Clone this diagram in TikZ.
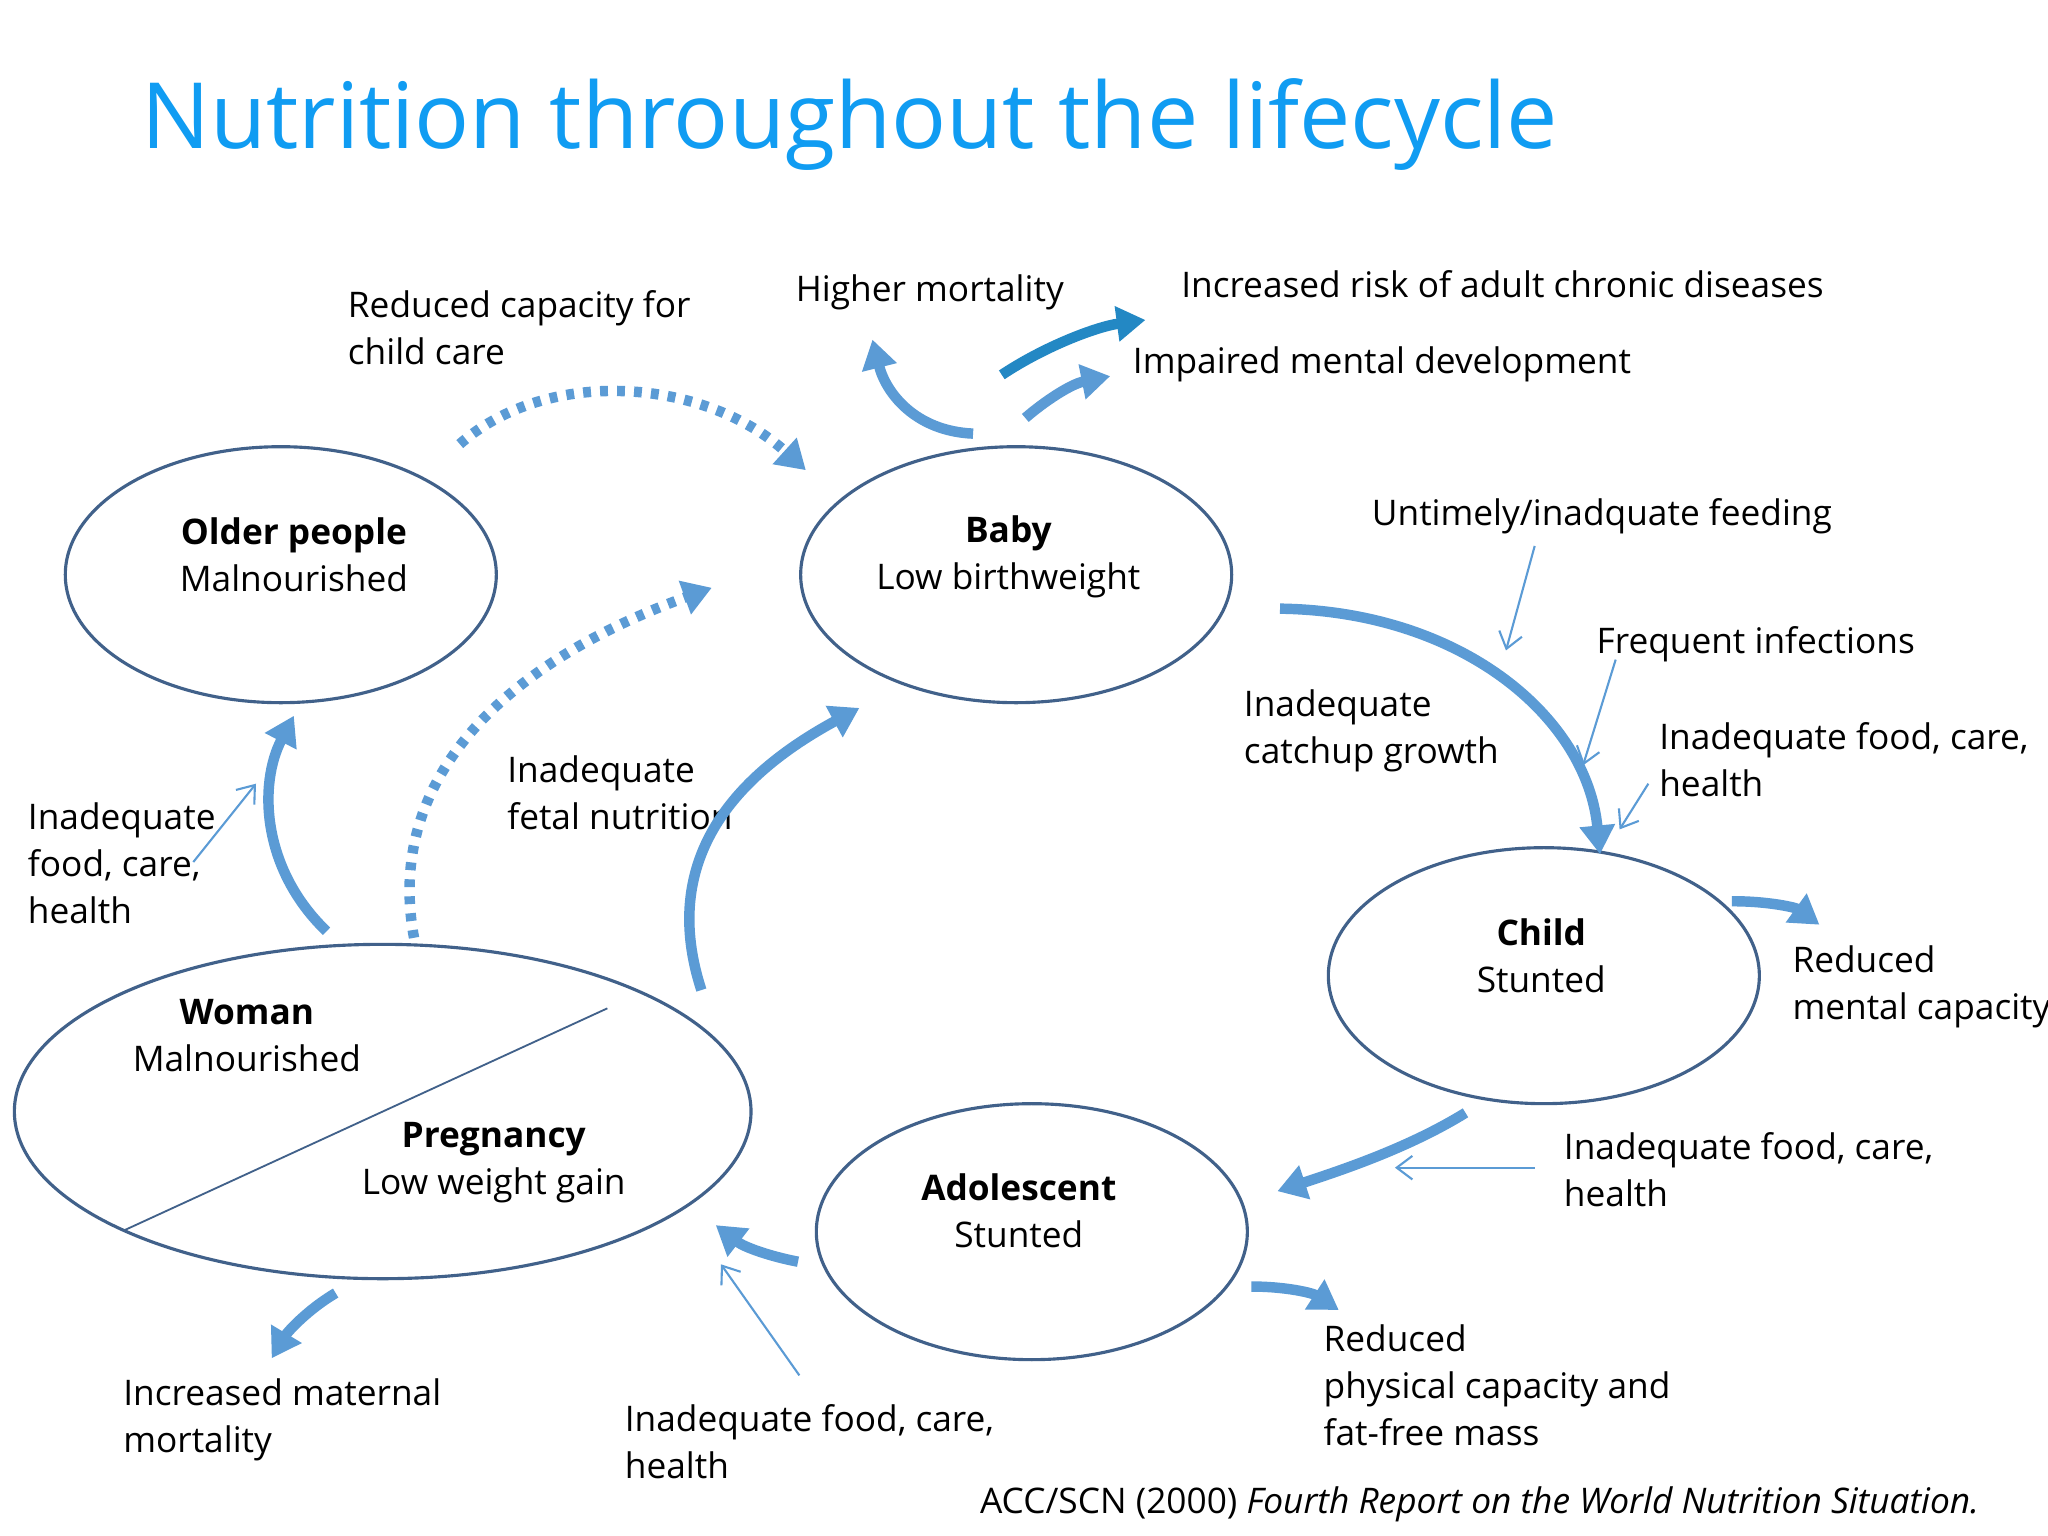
\documentclass[tikz,border=0pt]{standalone}
\usepackage{fontspec}
\setmainfont{Open Sans}
\usetikzlibrary{arrows.meta}
\definecolor{ar}{HTML}{5B9BD5}
\definecolor{el}{HTML}{41618A}
\definecolor{tt}{HTML}{109CF2}
\definecolor{teal}{HTML}{2388C4}
\tikzset{
 x=0.5pt,y=-0.5pt,
 lbl/.style={anchor=north west,align=left,inner sep=0pt,font=\fontsize{13.5}{18}\selectfont},
 ell/.style={draw=el,line width=1.2pt,ellipse,align=center,font=\fontsize{13.5}{18}\selectfont},
 big/.style={draw=ar,line width=4pt,-{Triangle[length=11pt,width=13pt]}},
 dot/.style={draw=ar,line width=4pt,dash pattern=on 3pt off 3.5pt,-{Triangle[length=11pt,width=13pt]}},
 thin/.style={draw=ar,line width=0.8pt,-{Straight Barb[length=6pt,width=9pt]}}
}
\usetikzlibrary{shapes.geometric}
\begin{document}
\begin{tikzpicture}
\useasboundingbox[fill=white] (0,0) rectangle (1568,1176);
\node[anchor=west,text=tt,font=\fontsize{35}{40}\selectfont,inner sep=0pt] (title) at (108,95) {Nutrition throughout the lifecycle};
% ellipses
\draw[el,line width=1.2pt] (215,440) ellipse [x radius=165, y radius=98];
\draw[el,line width=1.2pt] (778,440) ellipse [x radius=165, y radius=98];
\draw[el,line width=1.2pt] (1182,747) ellipse [x radius=165, y radius=98];
\draw[el,line width=1.2pt] (790,943) ellipse [x radius=165, y radius=98];
\draw[el,line width=1.2pt] (293,851) ellipse [x radius=282, y radius=128];
\draw[el,line width=0.7pt] (95,942) -- (465,772);
\node[lbl,anchor=center,align=center] (older) at (225,425) {\textbf{Older people}\\Malnourished};
\node[lbl,anchor=center,align=center] (baby) at (772,426) {\textbf{Baby}\\Low birthweight};
\node[lbl,anchor=center,align=center] (child) at (1180,732) {\textbf{Child}\\Stunted};
\node[lbl,anchor=center,align=center] (adol) at (780,927) {\textbf{Adolescent}\\Stunted};
\node[lbl,anchor=center,align=center] (woman) at (189,793) {\textbf{Woman}\\Malnourished};
\node[lbl,anchor=center,align=center] (preg) at (378,890) {\textbf{Pregnancy}\\Low weight gain};
% labels
\node[lbl] (t1) at (266,222) {Reduced capacity for\\child care};
\node[lbl] (t2) at (609,210) {Higher mortality};
\node[lbl] (t3) at (904,207) {Increased risk of adult chronic diseases};
\node[lbl] (t4) at (867,265) {Impaired mental development};
\node[lbl] (t5) at (1050,381) {Untimely/inadquate feeding};
\node[lbl] (t6) at (1222,479) {Frequent infections};
\node[lbl] (t7) at (1270,553) {Inadequate food, care,\\health};
\node[lbl] (t8) at (952,528) {Inadequate\\catchup growth};
\node[lbl] (t9) at (388,578) {Inadequate\\fetal nutrition};
\node[lbl] (t10) at (21,614) {Inadequate\\food, care,\\health};
\node[lbl] (t11) at (1372,724) {Reduced\\mental capacity};
\node[lbl] (t12) at (1197,867) {Inadequate food, care,\\health};
\node[lbl] (t13) at (1013,1014) {Reduced\\physical capacity and\\fat-free mass};
\node[lbl] (t14) at (478,1075) {Inadequate food, care,\\health};
\node[lbl] (t15) at (94,1055) {Increased maternal\\mortality};
\node[lbl,anchor=west] (cite) at (750,1152) {ACC/SCN (2000) \textit{Fourth Report on the World Nutrition Situation.}};
% arrows
\coordinate (a1s) at (250,713); \coordinate (a1e) at (225,548);
\draw[big] (a1s) .. controls (200,665) and (198,600) .. (a1e);
\coordinate (a2s) at (317,718); \coordinate (a2e) at (545,450);
\draw[dot] (a2s) .. controls (295,600) and (380,510) .. (a2e);
\coordinate (a3s) at (352,340); \coordinate (a3e) at (617,360);
\draw[dot] (a3s) .. controls (420,280) and (540,290) .. (a3e);
\coordinate (a4s) at (537,758); \coordinate (a4e) at (658,542);
\draw[big] (a4s) .. controls (505,660) and (560,595) .. (a4e);
\coordinate (a5s) at (745,332); \coordinate (a5e) at (668,260);
\draw[big] (a5s) .. controls (700,330) and (678,300) .. (a5e);
\coordinate (a6s) at (785,320); \coordinate (a6e) at (850,288);
\draw[big] (a6s) .. controls (800,307) and (820,294) .. (a6e);
\coordinate (a7s) at (767,287); \coordinate (a7e) at (877,245);
\draw[big,draw=teal] (a7s) .. controls (800,265) and (840,250) .. (a7e);
\coordinate (a8s) at (980,466); \coordinate (a8e) at (1225,654);
\draw[big] (a8s) .. controls (1120,468) and (1215,550) .. (a8e);
\coordinate (b1s) at (1175,418); \coordinate (b1e) at (1153,498);
\draw[thin] (b1s) -- (b1e);
\coordinate (b2s) at (1237,505); \coordinate (b2e) at (1212,586);
\draw[thin] (b2s) -- (b2e);
\coordinate (b3s) at (1262,600); \coordinate (b3e) at (1240,635);
\draw[thin] (b3s) -- (b3e);
\coordinate (a9s) at (1326,690); \coordinate (a9e) at (1393,708);
\draw[big] (a9s) .. controls (1355,690) and (1375,695) .. (a9e);
\coordinate (a10s) at (1122,852); \coordinate (a10e) at (978,912);
\draw[big] (a10s) .. controls (1080,878) and (1030,895) .. (a10e);
\coordinate (b4s) at (1175,894); \coordinate (b4e) at (1068,894);
\draw[thin] (b4s) -- (b4e);
\coordinate (a11s) at (611,966); \coordinate (a11e) at (548,938);
\draw[big] (a11s) .. controls (590,962) and (570,955) .. (a11e);
\coordinate (b5s) at (612,1053); \coordinate (b5e) at (552,968);
\draw[thin] (b5s) -- (b5e);
\coordinate (a12s) at (958,985); \coordinate (a12e) at (1025,1003);
\draw[big] (a12s) .. controls (985,985) and (1005,990) .. (a12e);
\coordinate (a13s) at (257,990); \coordinate (a13e) at (208,1040);
\draw[big] (a13s) .. controls (235,1003) and (220,1020) .. (a13e);
\coordinate (b6s) at (148,660); \coordinate (b6e) at (196,600);
\draw[thin] (b6s) -- (b6e);
\end{tikzpicture}
\end{document}
